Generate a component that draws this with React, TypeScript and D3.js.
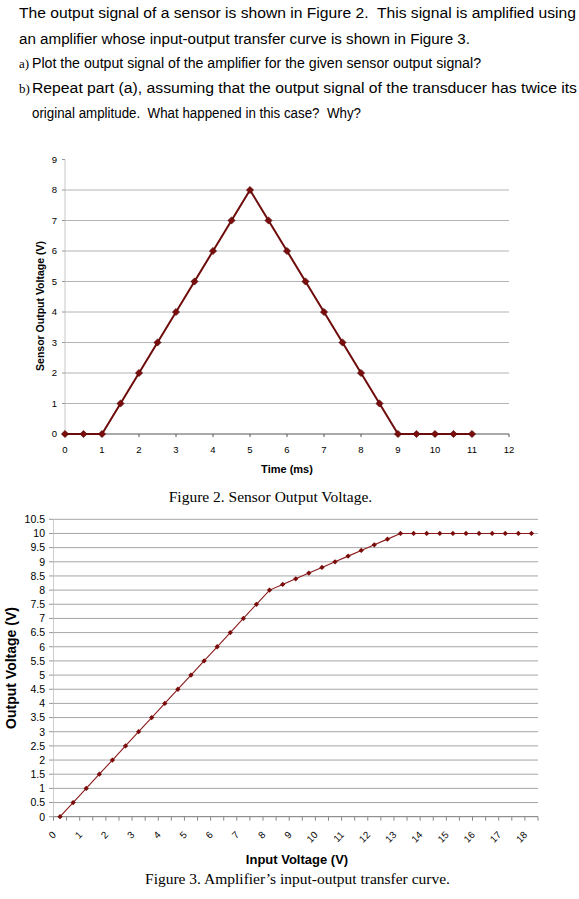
import React from "react";
import * as d3 from "d3";

// ---------- Text ----------
const introLines = [
  "The output signal of a sensor is shown in Figure 2.  This signal is amplified using",
  "an amplifier whose input-output transfer curve is shown in Figure 3.",
];
const partA = "Plot the output signal of the amplifier for the given sensor output signal?";
const partB1 = "Repeat part (a), assuming that the output signal of the transducer has twice its";
const partB2 = "original amplitude.  What happened in this case?  Why?";

// ---------- Figure 2 data ----------
const sensorTime = [0, 0.5, 1, 1.5, 2, 2.5, 3, 3.5, 4, 4.5, 5, 5.5, 6, 6.5, 7, 7.5, 8, 8.5, 9, 9.5, 10, 10.5, 11];
const sensorVoltage = [0, 0, 0, 1, 2, 3, 4, 5, 6, 7, 8, 7, 6, 5, 4, 3, 2, 1, 0, 0, 0, 0, 0];
const fig2XTicks = [0, 1, 2, 3, 4, 5, 6, 7, 8, 9, 10, 11, 12];
const fig2YTicks = [0, 1, 2, 3, 4, 5, 6, 7, 8, 9];

// ---------- Figure 3 data ----------
const ampInput = [
  "0", "0.5", "1", "1.5", "2", "2.5", "3", "3.5", "4", "4.5", "5", "5.5", "6", "6.5", "7", "7.5", "8", "8.5",
  "9", "9.5", "10", "10.5", "11", "11.5", "12", "12.5", "13", "13.5", "14", "14.5", "15", "15.5", "16", "16.5",
  "17", "17.5", "18",
];
const ampOutput = [
  0, 0.5, 1, 1.5, 2, 2.5, 3, 3.5, 4, 4.5, 5, 5.5, 6, 6.5, 7, 7.5, 8, 8.2, 8.4, 8.6, 8.8, 9, 9.2, 9.4, 9.6, 9.8,
  10, 10, 10, 10, 10, 10, 10, 10, 10, 10, 10,
];
const ampXLabels = ["0", "1", "2", "3", "4", "5", "6", "7", "8", "9", "10", "11", "12", "13", "14", "15", "16", "17", "18"];
const fig3YTicks = [0, 0.5, 1, 1.5, 2, 2.5, 3, 3.5, 4, 4.5, 5, 5.5, 6, 6.5, 7, 7.5, 8, 8.5, 9, 9.5, 10, 10.5];

const SANS = "'Liberation Sans', Arial, sans-serif";
const SERIF = "'Liberation Serif', 'Times New Roman', serif";
const LINE_RED = "#6e0b0b";

function Figure2() {
  const x = d3.scaleLinear().domain([0, 12]).range([65, 509]);
  const y = d3.scaleLinear().domain([0, 9]).range([434, 159.5]);
  const pts = sensorTime.map((t, i) => [t, sensorVoltage[i]] as [number, number]);
  const line = d3.line<[number, number]>().x((d) => x(d[0])).y((d) => y(d[1]));
  const marker = d3.symbol().type(d3.symbolSquare).size(26)() as string;
  return (
    <g>
      {fig2YTicks.filter((v) => v > 0 && v < 9).map((v) => (
        <line key={"g" + v} x1={x(0)} x2={x(12)} y1={y(v)} y2={y(v)} stroke="#b4b4b4" strokeWidth={1} />
      ))}
      <line x1={x(0)} x2={x(0)} y1={y(9)} y2={y(0)} stroke="#c8c8c8" strokeWidth={1} />
      {fig2YTicks.map((v) => (
        <line key={"yt" + v} x1={x(0) - 3} x2={x(0)} y1={y(v)} y2={y(v)} stroke="#999" />
      ))}
      <line x1={x(0)} x2={x(12)} y1={y(0)} y2={y(0)} stroke="#555" strokeWidth={1} />
      {fig2XTicks.map((v) => (
        <line key={"xt" + v} x1={x(v)} x2={x(v)} y1={y(0)} y2={y(0) + 3} stroke="#555" />
      ))}
      {fig2YTicks.map((v) => (
        <text key={"yl" + v} x={57} y={y(v) + 3.3} fontSize={9.5} fontFamily={SANS} textAnchor="end" fill="#000">
          {v}
        </text>
      ))}
      {fig2XTicks.map((v) => (
        <text key={"xl" + v} x={x(v)} y={452.5} fontSize={9.5} fontFamily={SANS} textAnchor="middle" fill="#000">
          {v}
        </text>
      ))}
      <path d={line(pts) as string} fill="none" stroke={LINE_RED} strokeWidth={2} strokeLinejoin="round" />
      {pts.map((p, i) => (
        <path
          key={"m" + i}
          d={marker}
          transform={`translate(${x(p[0])},${y(p[1])}) rotate(45)`}
          fill="#7a0c0c"
          stroke="#4a0505"
          strokeWidth={0.6}
        />
      ))}
      <text x={287} y={472.5} fontSize={11} fontWeight="bold" fontFamily={SANS} textAnchor="middle">
        Time (ms)
      </text>
      <text
        transform={`translate(44,306) rotate(-90)`}
        fontSize={10.5}
        fontWeight="bold"
        fontFamily={SANS}
        textAnchor="middle"
      >
        Sensor Output Voltage (V)
      </text>
      <text x={270.5} y={501.5} fontSize={15.5} fontFamily={SERIF} textAnchor="middle">
        Figure 2. Sensor Output Voltage.
      </text>
    </g>
  );
}

function Figure3() {
  const x = d3.scaleBand<string>().domain(ampInput).range([53.5, 538]).paddingInner(0).paddingOuter(0);
  const y = d3.scaleLinear().domain([0, 10.5]).range([816.7, 519.3]);
  const cx = (c: string) => (x(c) as number) + x.bandwidth() / 2;
  const line = d3
    .line<number>()
    .x((_, i) => cx(ampInput[i]))
    .y((d) => y(d));
  const marker = d3.symbol().type(d3.symbolSquare).size(14)() as string;
  const boundaries = ampInput.map((c) => x(c) as number).concat([538]);
  return (
    <g>
      {fig3YTicks.filter((v) => v > 0).map((v) => (
        <line key={"g" + v} x1={53.5} x2={538} y1={y(v)} y2={y(v)} stroke="#a6a6a6" strokeWidth={1} />
      ))}
      <line x1={53.5} x2={53.5} y1={y(10.5)} y2={y(0)} stroke="#cfcfcf" />
      {fig3YTicks.map((v) => (
        <line key={"yt" + v} x1={49} x2={53.5} y1={y(v)} y2={y(v)} stroke="#999" />
      ))}
      <line x1={53.5} x2={538} y1={y(0)} y2={y(0)} stroke="#777" />
      {boundaries.map((b, i) => (
        <line key={"xt" + i} x1={b} x2={b} y1={y(0)} y2={y(0) + 4} stroke="#888" />
      ))}
      {fig3YTicks.map((v) => (
        <text key={"yl" + v} x={45} y={y(v) + 3.8} fontSize={10.5} fontFamily={SANS} textAnchor="end">
          {v}
        </text>
      ))}
      {ampXLabels.map((c) => (
        <text
          key={"xl" + c}
          transform={`translate(${cx(c) - 3.5},${835.5}) rotate(-45)`}
          fontSize={9.8}
          fontFamily={SANS}
          textAnchor="end"
        >
          {c}
        </text>
      ))}
      <path d={line(ampOutput) as string} fill="none" stroke="#8a1a1a" strokeWidth={1.1} />
      {ampOutput.map((v, i) => (
        <path
          key={"m" + i}
          d={marker}
          transform={`translate(${cx(ampInput[i])},${y(v)}) rotate(45)`}
          fill="#7a0c0c"
        />
      ))}
      <text x={297} y={864} fontSize={13} fontWeight="bold" fontFamily={SANS} textAnchor="middle">
        Input Voltage (V)
      </text>
      <text
        transform={`translate(16,668) rotate(-90)`}
        fontSize={14}
        fontWeight="bold"
        fontFamily={SANS}
        textAnchor="middle"
      >
        Output Voltage (V)
      </text>
      <text x={297.5} y={884} fontSize={15.5} fontFamily={SERIF} textAnchor="middle">
        Figure 3. Amplifier’s input-output transfer curve.
      </text>
    </g>
  );
}

function FitLine({ x, y, width, text }: { x: number; y: number; width: number; text: string }) {
  return (
    <text x={x} y={y} xmlSpace="preserve" textLength={width} lengthAdjust="spacingAndGlyphs">
      {text}
    </text>
  );
}

export default function App() {
  return (
    <svg
      width={579}
      height={899}
      viewBox="0 0 579 899"
      style={{ position: "absolute", left: 0, top: 0, background: "#fff" }}
    >
      <rect x={0} y={0} width={579} height={899} fill="#fff" />
      <g fontFamily={SANS} fontSize={14} fill="#000">
        <FitLine x={19} y={18} width={557} text={introLines[0]} />
        <FitLine x={19} y={44} width={451} text={introLines[1]} />
        <text x={19} y={68} fontFamily={SERIF} fontSize={13}>a)</text>
        <FitLine x={32} y={68} width={449} text={partA} />
        <text x={19} y={93} fontFamily={SERIF} fontSize={13}>b)</text>
        <FitLine x={32} y={93} width={545} text={partB1} />
        <FitLine x={32} y={118} width={329} text={partB2} />
      </g>
      <Figure2 />
      <Figure3 />
    </svg>
  );
}
